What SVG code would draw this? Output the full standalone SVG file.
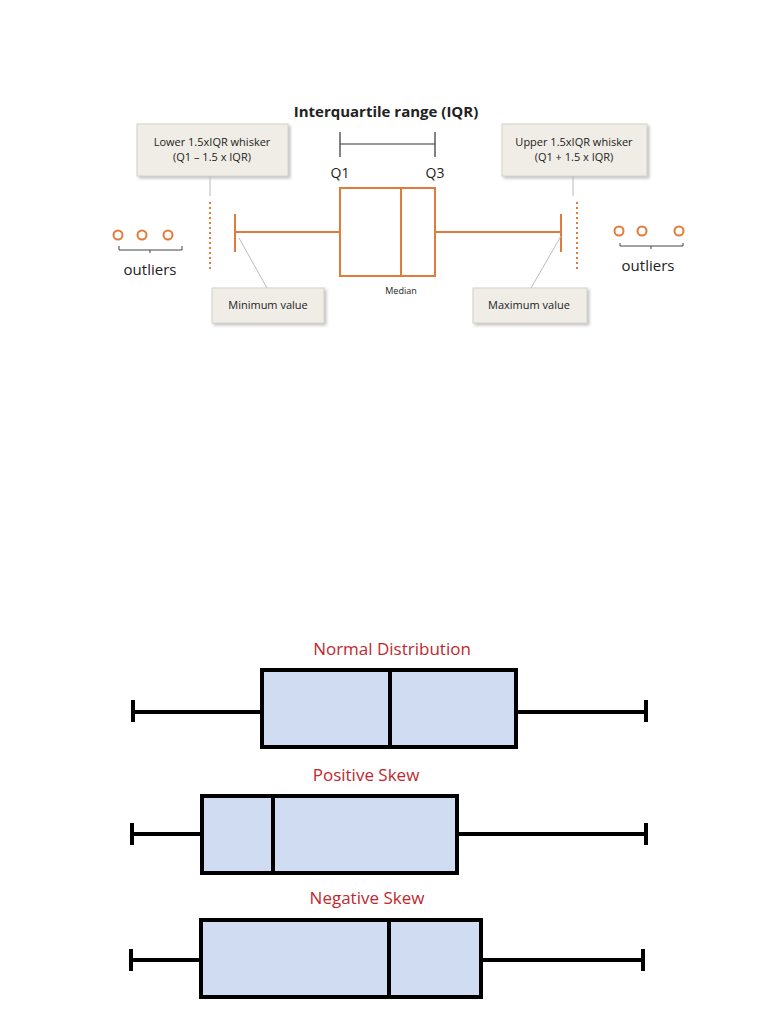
<svg xmlns="http://www.w3.org/2000/svg" width="768" height="1024" viewBox="0 0 768 1024">
<defs>
<filter id="sh" x="-10%" y="-10%" width="130%" height="140%"><feDropShadow dx="2" dy="2" stdDeviation="1.5" flood-color="#999" flood-opacity="0.6"/></filter>
</defs>
<style>
text{font-family:"Open Sans","Noto Sans","Liberation Sans",sans-serif;fill:#222}
.lab{fill:#efede6;stroke:#d4d2c8;stroke-width:1;filter:url(#sh)}
.or{stroke:#e07b39;stroke-width:2;fill:none}
.gl{stroke:#bbb;stroke-width:1;fill:none}
.bx{fill:#cfdcf1;stroke:#000;stroke-width:4}
.bl{stroke:#000;stroke-width:4;fill:none}
.rt{fill:#c0282d;font-size:17px;text-anchor:middle}
</style>
<rect width="768" height="1024" fill="#fff"/>
<g id="title"><text x="386" y="117" text-anchor="middle" font-size="15" font-weight="bold">Interquartile range (<tspan font-weight="bold">IQR</tspan>)</text></g>
<g id="iqr-bracket"><path d="M340 132V157M435 132V157M340 144H435" stroke="#333" stroke-width="1.2" fill="none"/></g>
<g id="lower-whisker-label"><rect class="lab" x="137" y="124" width="151" height="52"/><text x="212" y="146" text-anchor="middle" font-size="11">Lower 1.5xIQR whisker</text><text x="212" y="161" text-anchor="middle" font-size="11">(Q1 – 1.5 x IQR)</text></g>
<g id="upper-whisker-label"><rect class="lab" x="502" y="124" width="145" height="52"/><text x="574" y="146" text-anchor="middle" font-size="11">Upper 1.5xIQR whisker</text><text x="574" y="161" text-anchor="middle" font-size="11">(Q1 + 1.5 x IQR)</text></g>
<g id="q-labels"><text x="340" y="178" text-anchor="middle" font-size="14">Q1</text><text x="435" y="178" text-anchor="middle" font-size="14">Q3</text></g>
<g id="boxplot">
<rect x="340" y="188" width="95" height="88" fill="#fbe8dc" class="or"/>
<line x1="401" y1="188" x2="401" y2="276" class="or" stroke-width="2.5"/>
<path class="or" d="M235 232H340M435 232H561M235 214V252M561 214V252"/>
<path d="M210 202V270M577 202V270" stroke="#e07b39" stroke-width="2" stroke-dasharray="2,3"/>
</g>
<g id="median-label"><text x="401" y="294" text-anchor="middle" font-size="9">Median</text></g>
<g id="outliers-left"><circle cx="118" cy="235" r="4.5" class="or" stroke-width="1.5"/><circle cx="142" cy="235" r="4.5" class="or" stroke-width="1.5"/><circle cx="168" cy="235" r="4.5" class="or" stroke-width="1.5"/><path d="M119 246V250H182V246M150 250V253" stroke="#444" fill="none"/><text x="150" y="275" text-anchor="middle" font-size="15">outliers</text></g>
<g id="outliers-right"><circle cx="619" cy="231" r="4.5" class="or" stroke-width="1.5"/><circle cx="642" cy="231" r="4.5" class="or" stroke-width="1.5"/><circle cx="679" cy="231" r="4.5" class="or" stroke-width="1.5"/><path d="M620 243V246H683V243M651 246V249" stroke="#444" fill="none"/><text x="648" y="271" text-anchor="middle" font-size="15">outliers</text></g>
<g id="min-label"><rect class="lab" x="212" y="288" width="112" height="35"/><text x="268" y="309" text-anchor="middle" font-size="11">Minimum value</text></g>
<g id="max-label"><rect class="lab" x="473" y="288" width="114" height="35"/><text x="529" y="309" text-anchor="middle" font-size="11">Maximum value</text></g>
<g id="connectors">
<path class="gl" d="M210 176V196M573 176V196M239 238L267 288M561 236L531 288"/>
</g>
<g id="normal"><text class="rt" x="392" y="655">Normal Distribution</text>
<rect class="bx" x="262" y="670" width="254" height="77"/><path class="bl" d="M390 670V747M133 712H262M516 712H646M133 700V722M646 700V722"/></g>
<g id="positive"><text class="rt" x="366" y="781">Positive Skew</text>
<rect class="bx" x="202" y="796" width="255" height="77"/><path class="bl" d="M273 796V873M132 834H202M457 834H646M132 823V845M646 823V845"/></g>
<g id="negative"><text class="rt" x="367" y="904">Negative Skew</text>
<rect class="bx" x="201" y="920" width="280" height="77"/><path class="bl" d="M389 920V997M131 960H201M481 960H643M131 949V971M643 949V971"/></g>
</svg>
